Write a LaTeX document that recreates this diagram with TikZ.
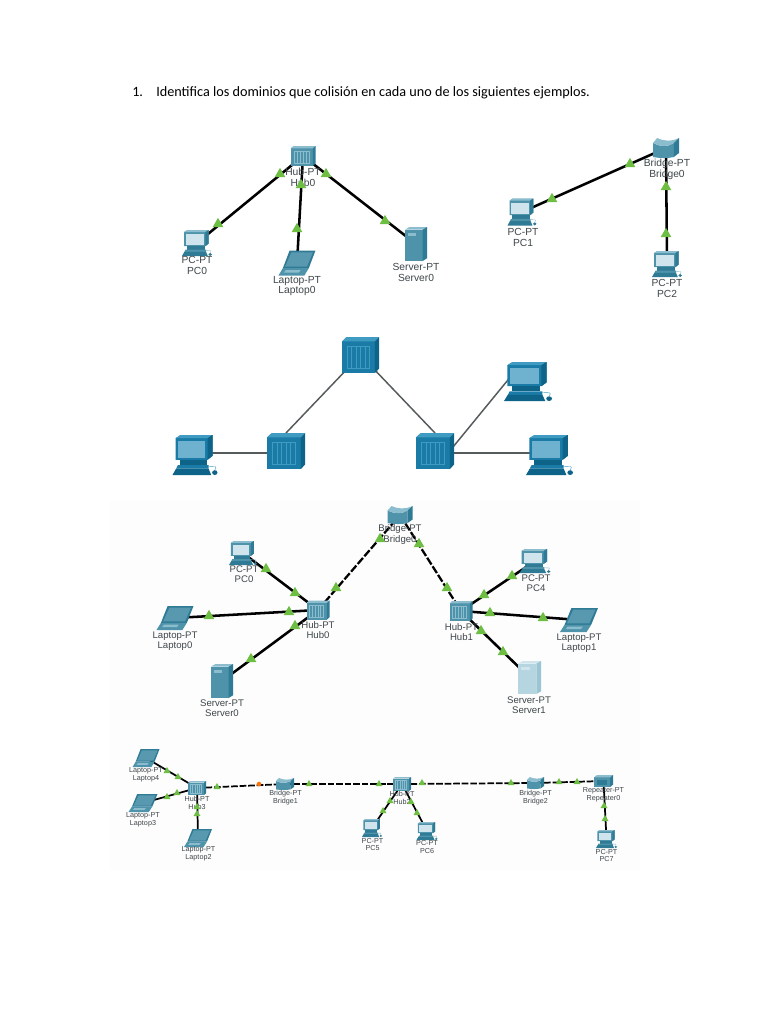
\documentclass[tikz,border=0pt]{standalone}
\usepackage{fontspec}
\setmainfont{Liberation Sans}
\newfontfamily\titlefont{Carlito}
\usetikzlibrary{shapes.geometric}
\pgfdeclarelayer{lines}
\pgfdeclarelayer{top}
\pgfsetlayers{lines,main,top}
\definecolor{triG}{HTML}{6FBE44}
\definecolor{labG}{HTML}{3F464A}
\definecolor{wireG}{HTML}{555A5C}
\colorlet{icF}{black}\colorlet{icD}{black}\colorlet{icL}{black}\colorlet{icS}{black}
\newcommand\palsmall{\definecolor{icF}{HTML}{4F93AB}\definecolor{icD}{HTML}{2F7A95}\definecolor{icL}{HTML}{8CBDCE}\definecolor{icS}{HTML}{CFE4EC}}
\newcommand\palbig{\definecolor{icF}{HTML}{1A7BA6}\definecolor{icD}{HTML}{0E6388}\definecolor{icL}{HTML}{3F9BC2}\definecolor{icS}{HTML}{6FB2CF}}
\newcommand\palpale{\definecolor{icF}{HTML}{B5D5E0}\definecolor{icD}{HTML}{9CC5D3}\definecolor{icL}{HTML}{CFE4EC}\definecolor{icS}{HTML}{E4F0F4}}
\tikzset{
  devbox/.style={inner sep=0pt,outer sep=0pt},
  wire/.style={line width=1.9pt,black},
  wirethin/.style={line width=1.3pt,black},
  wiredash/.style={line width=1.7pt,black,dash pattern=on 6pt off 1.6pt},
  wiredashthin/.style={line width=1.3pt,black,dash pattern=on 5pt off 1.4pt},
  wirebig/.style={line width=1.1pt,wireG},
  tri/.style={regular polygon,regular polygon sides=3,fill=triG,inner sep=0pt,minimum size=9.2pt},
  trismall/.style={regular polygon,regular polygon sides=3,fill=triG,inner sep=0pt,minimum size=6pt},
  lab/.style={inner sep=0pt,align=center,text=labG,font=\fontsize{7.7}{7.9}\selectfont},
  labm/.style={inner sep=0pt,align=center,text=labG,font=\fontsize{7.2}{7.7}\selectfont},
  labs/.style={inner sep=0pt,align=center,text=labG,font=\fontsize{5.4}{5.9}\selectfont},
  pics/pcicon/.style={code={
    \fill[icF] (-.43,-.42) -- (-.32,-.5) -- (.39,-.5) -- (.39,.02) -- (.28,.12) -- (-.43,.12) -- cycle;
    \fill[icL] (-.43,-.42) -- (-.32,-.5) -- (.39,-.5) -- (.28,-.42) -- cycle;
    \fill[icD] (.28,-.42) -- (.39,-.5) -- (.39,.02) -- (.28,.12) -- cycle;
    \fill[icS] (-.37,-.35) rectangle (.23,.07);
    \fill[icD] (-.33,.12) rectangle (.26,.25);
    \fill[icF] (-.38,.25) -- (.3,.25) -- (.3,.34) -- (-.42,.34) -- cycle;
    \fill[icD] (-.42,.34) -- (.3,.34) -- (.36,.5) -- (-.5,.5) -- cycle;
    \fill[icD] (.44,.44) ellipse [x radius=.06,y radius=.06];
    \draw[icL,line width=.3pt] (.3,.28) .. controls (.45,.3) and (.5,.25) .. (.44,.38);
  }},
  pics/laptopicon/.style={code={
    \fill[icD] (-.2,-.5) -- (.5,-.5) -- (.32,.2) -- (-.38,.2) -- cycle;
    \fill[icF!85!icL] (-.15,-.43) -- (.43,-.43) -- (.27,.14) -- (-.32,.14) -- cycle;
    \fill[icF] (-.38,.2) -- (.32,.2) -- (.2,.5) -- (-.5,.5) -- cycle;
    \fill[icL] (-.3,.28) -- (.1,.28) -- (.05,.38) -- (-.35,.38) -- cycle;
  }},
  pics/servericon/.style={code={
    \fill[icF] (-.5,-.42) rectangle (.3,.5);
    \fill[icL] (-.5,-.42) -- (-.3,-.5) -- (.5,-.5) -- (.3,-.42) -- cycle;
    \fill[icD] (.3,-.42) -- (.5,-.5) -- (.5,.42) -- (.3,.5) -- cycle;
    \fill[icL] (-.38,-.32) rectangle (.0,-.24);
  }},
  pics/hubicon/.style={code={
    \fill[icF] (-.5,-.38) rectangle (.39,.5);
    \fill[icL] (-.5,-.38) -- (-.38,-.5) -- (.5,-.5) -- (.39,-.38) -- cycle;
    \fill[icD] (.39,-.38) -- (.5,-.5) -- (.5,.38) -- (.39,.5) -- cycle;
    \draw[icL,line width=.45pt] (-.36,-.24) rectangle (.24,.36);
    \foreach \s in {-.24,-.12,0,.12}
      \draw[icL,line width=.45pt] (\s,-.24) -- (\s,.36);
  }},
  pics/bridgeicon/.style={code={
    \fill[icF] (-.5,-.25) .. controls (-.2,-.05) and (.08,-.05) .. (.3,-.25) -- (.3,.45) .. controls (.08,.52) and (-.2,.52) .. (-.5,.45) -- cycle;
    \fill[icL] (-.5,-.25) -- (-.34,-.5) .. controls (-.05,-.32) and (.22,-.32) .. (.5,-.5) -- (.3,-.25) .. controls (.08,-.05) and (-.2,-.05) .. (-.5,-.25) -- cycle;
    \fill[icD] (.3,-.25) -- (.5,-.5) -- (.5,.25) -- (.3,.45) -- cycle;
  }},
  pics/repeatericon/.style={code={
    \fill[icF] (-.5,-.3) rectangle (.35,.5);
    \fill[icL] (-.5,-.3) -- (-.35,-.5) -- (.5,-.5) -- (.35,-.3) -- cycle;
    \fill[icD] (.35,-.3) -- (.5,-.5) -- (.5,.3) -- (.35,.5) -- cycle;
    \fill[icD] (-.32,-.12) rectangle (.18,.32);
  }},
}
% name, icon, x, y, width, height
\newcommand\dev[6]{%
  \node[devbox,minimum width={#5*.75pt},minimum height={#6*.75pt}] (#1) at (#3,#4) {};
  \pic[xscale=#5,yscale=#6] at (#3,#4) {#2};}
% style, name, x, y, text
\newcommand\lbl[5]{\begin{pgfonlayer}{top}\node[#1] (#2) at (#3,#4) {#5};\end{pgfonlayer}}
\begin{document}
\begin{tikzpicture}[x=.75pt,y=-.75pt]
\useasboundingbox (0,0) rectangle (768,1024);
\begin{pgfonlayer}{lines}
  \fill[white] (0,0) rectangle (768,1024);
  \fill[black!0.7] (110,500) rectangle (640,870);
\end{pgfonlayer}
% title
\node[anchor=base west,inner sep=0pt,font=\titlefont\fontsize{10.67}{12}\selectfont] (tnum) at (132,97) {1.};
\node[anchor=base west,inner sep=0pt,font=\titlefont\fontsize{10.67}{12}\selectfont] (ttext) at (156,97) {Identifica los dominios que colisión en cada uno de los siguientes ejemplos.};
%
% ---------- diagram 1 (left)
\palsmall
\dev{hubA}{hubicon}{303}{156}{25}{20}
\dev{pcA}{pcicon}{197}{243}{30}{26}
\dev{lapA}{laptopicon}{297}{263}{37}{25}
\dev{srvA}{servericon}{416}{244}{22}{34}
\begin{pgfonlayer}{lines}
  \draw[wire] (hubA.center) -- (pcA.center);
  \draw[wire] (hubA.center) -- (lapA.center);
  \draw[wire] (hubA.center) -- (srvA.center);
\end{pgfonlayer}
\lbl{lab}{lhubA}{303}{177.5}{Hub-PT\\Hub0}
\lbl{lab}{lpcA}{197}{265.5}{PC-PT\\PC0}
\lbl{lab}{llapA}{297}{286}{Laptop-PT\\Laptop0}
\lbl{lab}{lsrvA}{416}{272.5}{Server-PT\\Server0}
%
% ---------- diagram 1 (right)
\dev{brB}{bridgeicon}{666}{148}{26}{20}
\dev{pcB}{pcicon}{522}{212}{29}{27}
\dev{pcC}{pcicon}{667}{264}{30}{26}
\begin{pgfonlayer}{lines}
  \draw[wire] (brB.center) -- (pcB.center);
  \draw[wire] (brB.center) -- (pcC.center);
\end{pgfonlayer}
\lbl{lab}{lbrB}{667}{169.5}{Bridge-PT\\Bridge0}
\lbl{lab}{lpcB}{523}{237.5}{PC-PT\\PC1}
\lbl{lab}{lpcC}{667}{288.5}{PC-PT\\PC2}
\begin{pgfonlayer}{top}
\foreach \x/\y [count=\i] in {280/174,218/224,301/185,297/229,326/174,385/221,630/164,552/199,666/187,666/234}
  \node[tri] (ta\i) at (\x,\y) {};
\end{pgfonlayer}
%
% ---------- diagram 2
\palbig
\dev{hubT}{hubicon}{360.5}{355}{37}{36}
\dev{hubL}{hubicon}{286}{451}{38}{36}
\dev{hubR}{hubicon}{435}{451}{38}{36}
\dev{pcL}{pcicon}{195}{455}{45}{40}
\dev{pcU}{pcicon}{528}{381.5}{48}{39}
\dev{pcR}{pcicon}{549.5}{455}{47}{40}
\coordinate (pcLport) at (205,453);
\coordinate (hubLport) at (275,453);
\coordinate (pcRport) at (540,453);
\coordinate (hubRportA) at (445,453);
\coordinate (hubRportB) at (453,447);
\coordinate (pcUport) at (512,375);
\begin{pgfonlayer}{lines}
  \draw[wirebig] (hubT.center) -- (hubL.north);
  \draw[wirebig] (hubT.center) -- (hubR.north);
  \draw[wirebig] (hubLport) -- (pcLport);
  \draw[wirebig] (hubRportA) -- (pcRport);
  \draw[wirebig] (hubRportB) -- (pcUport);
\end{pgfonlayer}
%
% ---------- diagram 3
\palsmall
\dev{brD}{bridgeicon}{400}{515}{25}{18}
\dev{hubD}{hubicon}{318}{610}{23}{19}
\dev{hubE}{hubicon}{461}{611}{23}{20}
\dev{pcD}{pcicon}{243}{553}{28}{24}
\dev{lapD}{laptopicon}{175}{618}{37}{24}
\dev{srvD}{servericon}{222}{681}{22}{34}
\dev{pcE}{pcicon}{535}{561}{31}{24}
\dev{lapE}{laptopicon}{579}{620}{38}{24}
{\palpale\dev{srvE}{servericon}{529.5}{677.5}{23}{33}}
\begin{pgfonlayer}{lines}
  \draw[wiredash] (hubD.center) -- (brD.center);
  \draw[wiredash] (brD.center) -- (hubE.center);
  \draw[wire] (hubD.center) -- (pcD.center);
  \draw[wire] (hubD.center) -- (lapD.center);
  \draw[wire] (hubD.center) -- (srvD.center);
  \draw[wire] (hubE.center) -- (pcE.center);
  \draw[wire] (hubE.center) -- (lapE.center);
  \draw[wire] (hubE.center) -- (srvE.center);
\end{pgfonlayer}
\lbl{labm}{lbrD}{400}{534.5}{Bridge-PT\\Bridge0}
\lbl{labm}{lhubD}{318}{630}{Hub-PT\\Hub0}
\lbl{labm}{lhubE}{461.5}{632}{Hub-PT\\Hub1}
\lbl{labm}{lpcD}{244}{574.5}{PC-PT\\PC0}
\lbl{labm}{llapD}{175}{641}{Laptop-PT\\Laptop0}
\lbl{labm}{lsrvD}{222}{708.5}{Server-PT\\Server0}
\lbl{labm}{lpcE}{536}{583}{PC-PT\\PC4}
\lbl{labm}{llapE}{579}{643}{Laptop-PT\\Laptop1}
\lbl{labm}{lsrvE}{529}{705}{Server-PT\\Server1}
\begin{pgfonlayer}{top}
\foreach \x/\y [count=\i] in {266/569,295/593,209/616,289/612,295/626,251/659,336/588,380/539,419/544,447/588,512/576,484/595,490/613,543/618,481/631,503/652}
  \node[tri] (tb\i) at (\x,\y) {};
\end{pgfonlayer}
%
% ---------- diagram 4
\dev{hubF}{hubicon}{197}{788}{18}{14}
\dev{lapF}{laptopicon}{146}{758}{27}{18}
\dev{lapG}{laptopicon}{143}{803}{29}{18}
\dev{lapH}{laptopicon}{198}{838}{28}{18}
\dev{brF}{bridgeicon}{285}{784}{18}{12}
\dev{hubG}{hubicon}{402}{784}{18}{14}
\dev{pcF}{pcicon}{372}{828}{20}{18}
\dev{pcG}{pcicon}{427}{831}{21}{18}
\dev{brG}{bridgeicon}{535.5}{783}{17}{12}
\dev{repA}{repeatericon}{603.5}{781}{19}{12}
\dev{pcH}{pcicon}{606.5}{839}{21}{18}
\begin{pgfonlayer}{lines}
  \draw[wirethin] (hubF.center) -- (lapF.center);
  \draw[wirethin] (hubF.center) -- (lapG.center);
  \draw[wirethin] (hubF.center) -- (lapH.center);
  \draw[wiredashthin] (hubF.center) -- (brF.center);
  \draw[wiredashthin] (brF.center) -- (hubG.center);
  \draw[wiredashthin] (hubG.center) -- (brG.center);
  \draw[wiredashthin] (brG.center) -- (repA.center);
  \draw[wirethin] (hubG.center) -- (pcF.center);
  \draw[wirethin] (hubG.center) -- (pcG.center);
  \draw[wirethin] (repA.center) -- (pcH.center);
\end{pgfonlayer}
\lbl{labs}{lhubF}{197}{803}{Hub-PT\\Hub3}
\lbl{labs}{llapF}{146}{775}{Laptop-PT\\Laptop4}
\lbl{labs}{llapG}{143}{820}{Laptop-PT\\Laptop3}
\lbl{labs}{llapH}{198.5}{854}{Laptop-PT\\Laptop2}
\lbl{labs}{lbrF}{285.5}{798}{Bridge-PT\\Bridge1}
\lbl{labs}{lhubG}{402}{798}{Hub-PT\\Hub2}
\lbl{labs}{lpcF}{372.5}{844.5}{PC-PT\\PC5}
\lbl{labs}{lpcG}{427}{847}{PC-PT\\PC6}
\lbl{labs}{lbrG}{535.5}{797.5}{Bridge-PT\\Bridge2}
\lbl{labs}{lrepA}{603.5}{794.5}{Repeater-PT\\Repeater0}
\lbl{labs}{lpcH}{606.5}{855.5}{PC-PT\\PC7}
\begin{pgfonlayer}{top}
\foreach \x/\y [count=\i] in {167/771,178/777,167/797,177/793,197/807,197/814,217/787,309/784,379/784,422/783,390/801,383/811,411/802,417/813,511/783,559/782,577/782,604/806,605/819}
  \node[trismall] (tc\i) at (\x,\y) {};
\node[circle,fill=orange!90!red,inner sep=0pt,minimum size=3.4pt] (dotA) at (259,784) {};
\end{pgfonlayer}
\end{tikzpicture}
\end{document}
